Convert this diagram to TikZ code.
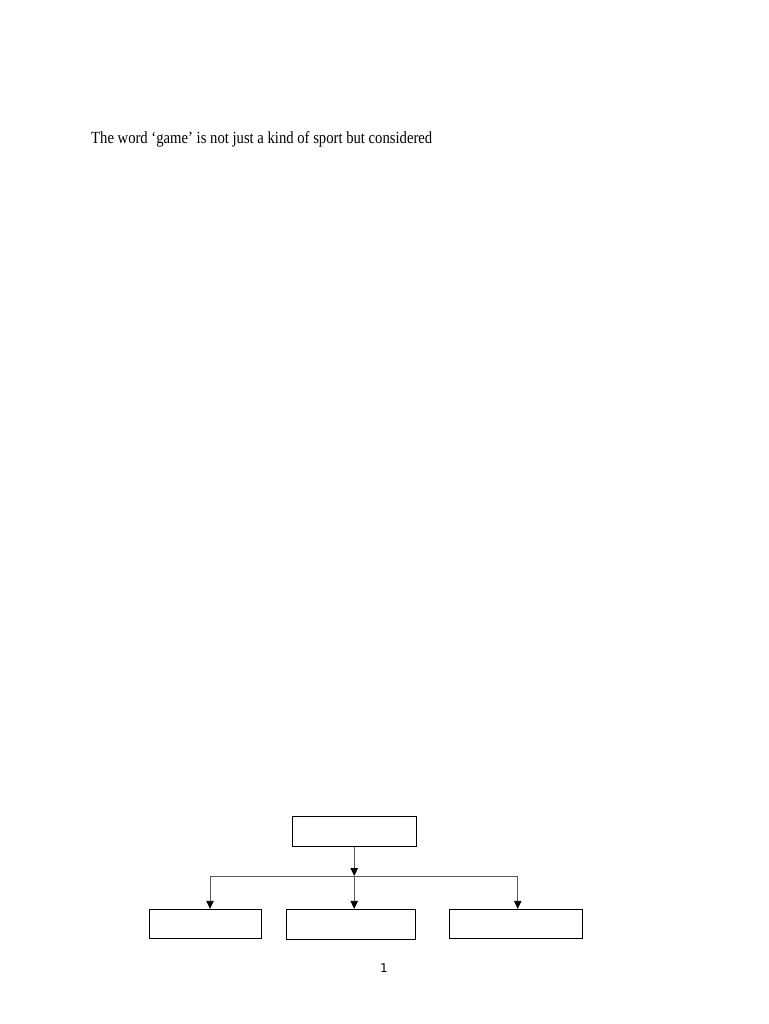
\documentclass[tikz,border=0pt]{standalone}
\usepackage{fontspec}
\setmainfont{Liberation Serif}
\newfontfamily\pagefont{DejaVu Sans}
\usetikzlibrary{arrows.meta}
\begin{document}
\begin{tikzpicture}[x=1pt,y=-1pt,
  emptybox/.style={draw=black,line width=1pt,fill=white,inner sep=0pt},
  conn/.style={draw=gray!70!black,line width=0.9pt},
  tip/.style={conn,-{Triangle[length=8pt,width=7.5pt,fill=black,color=black]}}]
\useasboundingbox[fill=white] (0,0) rectangle (768,1024);
\node[anchor=base west,inner sep=0pt] (txt) at (91,143.3)
  {\scalebox{0.863}[1]{\fontsize{17}{20}\selectfont The word ‘game’ is not just a kind of sport but considered}};
\node[emptybox,minimum width=124pt,minimum height=30pt] (top) at (354.2,831.5) {};
\node[emptybox,minimum width=112pt,minimum height=29.4pt] (left) at (205.2,924) {};
\node[emptybox,minimum width=129.3pt,minimum height=30.4pt] (mid) at (351.3,924.5) {};
\node[emptybox,minimum width=133.4pt,minimum height=29.4pt] (right) at (516,924) {};
\coordinate (hub) at (354.2,876);
\coordinate (hl) at (210,876);
\coordinate (hr) at (517.7,876);
\draw[conn] (hl) -- (hr);
\draw[tip] (top.south) -- (hub);
\draw[tip] (hl) -- (hl |- left.north);
\draw[tip] (hub) -- (hub |- mid.north);
\draw[tip] (hr) -- (hr |- right.north);
\node[inner sep=0pt] (pg) at (384,968) {\pagefont\fontsize{12}{14}\selectfont 1};
\end{tikzpicture}
\end{document}
